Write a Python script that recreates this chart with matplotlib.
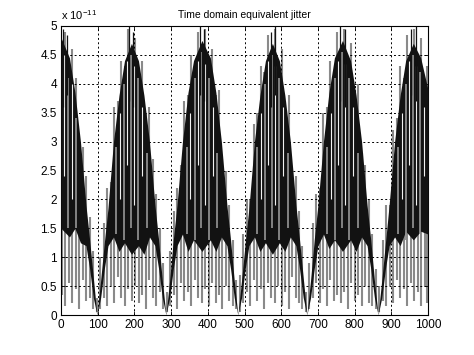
import matplotlib
matplotlib.use("Agg")
import matplotlib.pyplot as plt

plt.rcParams['font.family'] = ['Liberation Sans', 'DejaVu Sans']
plt.rcParams['mathtext.fontset'] = 'custom'
plt.rcParams['mathtext.rm'] = 'Liberation Sans'
plt.rcParams['mathtext.it'] = 'Liberation Sans'

title = "Time domain equivalent jitter"
x_ticks = [0, 100, 200, 300, 400, 500, 600, 700, 800, 900, 1000]
y_ticks = [0, 0.5, 1, 1.5, 2, 2.5, 3, 3.5, 4, 4.5, 5]
y_tick_labels = ["0", "0.5", "1", "1.5", "2", "2.5", "3", "3.5", "4", "4.5", "5"]

# dense core of the jitter trace (units of 1e-11 s)
core_x = [0, 23, 38, 53, 68, 78, 88, 98,
          108, 118, 128, 143, 158, 173, 192,
          211, 226, 241, 256, 266, 276, 286,
          296, 306, 316, 331, 346, 361, 384,
          407, 422, 437, 452, 462, 472, 482,
          492, 502, 512, 527, 542, 557, 576,
          595, 610, 625, 640, 650, 660, 670,
          680, 690, 700, 715, 730, 745, 767,
          789, 804, 819, 834, 844, 854, 864,
          874, 884, 894, 909, 924, 939, 960,
          980, 1000]
core_top = [4.8, 4.45, 3.85, 3.0, 1.9, 1.3, 0.65, 0,
            0.6, 1.25, 1.85, 3.0, 3.8, 4.4, 4.7,
            4.4, 3.8, 3.0, 1.9, 1.3, 0.6, 0,
            0.6, 1.3, 1.9, 3.0, 3.85, 4.4, 4.75,
            4.45, 3.85, 3.0, 1.9, 1.3, 0.6, 0,
            0.6, 1.25, 1.85, 3.0, 3.8, 4.4, 4.7,
            4.4, 3.8, 3.0, 1.9, 1.3, 0.65, 0,
            0.6, 1.3, 1.9, 3.0, 3.85, 4.45, 4.75,
            4.4, 3.8, 3.0, 1.9, 1.3, 0.6, 0,
            0.6, 1.25, 1.9, 3.0, 3.8, 4.4, 4.7,
            4.45, 3.9]
core_bot = [1.5, 1.35, 1.5, 1.25, 1.2, 0.8, 0.3, 0,
            0.3, 0.8, 1.2, 1.35, 1.1, 1.25, 1.05,
            1.2, 1.05, 1.35, 1.2, 0.8, 0.3, 0,
            0.3, 0.8, 1.2, 1.4, 1.1, 1.3, 1.1,
            1.3, 1.1, 1.35, 1.2, 0.8, 0.3, 0,
            0.3, 0.8, 1.2, 1.35, 1.1, 1.25, 1.05,
            1.25, 1.1, 1.35, 1.2, 0.8, 0.3, 0,
            0.3, 0.8, 1.2, 1.4, 1.15, 1.3, 1.1,
            1.3, 1.1, 1.35, 1.2, 0.8, 0.3, 0,
            0.3, 0.8, 1.2, 1.35, 1.2, 1.45, 1.3,
            1.45, 1.4]

# sparse strokes of the trace (grey)
spike_x = [3, 12, 22, 31, 41, 50, 60, 69, 79, 88,
           98,
           107, 117, 126, 136, 145, 155, 164, 174, 183, 193,
           202, 212, 221, 231, 240, 250, 259, 269, 278,
           288,
           297, 307, 316, 326, 335, 345, 354, 364, 373, 383,
           392, 402, 411, 421, 430, 440, 449, 459, 468, 478,
           487, 497, 506, 516, 525, 535, 544, 554, 563, 573,
           582, 592, 601, 611, 620, 630, 639, 649, 658, 668,
           677, 687, 696, 706, 715, 725, 734, 744, 753, 763,
           772, 782, 791, 801, 810, 820, 829, 839, 848, 858,
           867, 877, 886, 896, 905, 915, 924, 934, 943, 953, 962,
           972, 981, 991, 998]
spike_top = [4.6, 4.9, 4.2, 4.6, 4.1, 3.0, 2.9, 2.4, 1.7, 1.1,
             0.3,
             1.0, 1.6, 2.2, 2.3, 3.6, 3.7, 4.4, 4.3, 4.95, 4.5,
             4.8, 4.1, 4.4, 3.5, 3.6, 2.7, 2.1, 1.5, 0.9,
             0.4,
             1.1, 1.8, 2.2, 2.6, 3.7, 3.8, 4.5, 4.3, 4.9, 4.6,
             4.95, 4.3, 4.6, 3.8, 3.9, 2.7, 2.5, 1.9, 1.3, 0.6,
             0.7, 1.4, 2.0, 2.0, 3.3, 3.5, 4.3, 4.2, 4.85, 4.5,
             4.95, 4.3, 4.6, 3.7, 3.8, 2.5, 2.4, 1.8, 1.2, 0.4,
             0.9, 1.6, 2.1, 2.2, 3.5, 3.6, 4.4, 4.2, 4.9, 4.5,
             4.95, 4.3, 4.7, 3.9, 4.0, 2.8, 2.6, 2.0, 1.4, 0.8,
             0.5, 1.3, 1.9, 1.9, 3.2, 3.4, 4.3, 4.1, 4.85, 4.4, 4.95,
             4.4, 4.8, 4.0, 4.3]
spike_bot = [0.35, 0.15, 0.55, 0.2, 0.45, 0.1, 0.6, 0.25, 0.3, 0.1,
             0.05,
             0.1, 0.3, 0.15, 0.5, 0.2, 0.65, 0.3, 0.15, 0.45, 0.25,
             0.5, 0.2, 0.35, 0.1, 0.6, 0.3, 0.15, 0.4, 0.1,
             0.05,
             0.15, 0.35, 0.1, 0.55, 0.25, 0.4, 0.15, 0.6, 0.3, 0.2,
             0.45, 0.15, 0.55, 0.2, 0.35, 0.1, 0.5, 0.25, 0.15, 0.1,
             0.05, 0.2, 0.4, 0.15, 0.6, 0.25, 0.45, 0.1, 0.55, 0.3,
             0.2, 0.5, 0.15, 0.4, 0.1, 0.65, 0.3, 0.2, 0.1, 0.05,
             0.1, 0.3, 0.55, 0.2, 0.45, 0.15, 0.6, 0.25, 0.35, 0.2,
             0.4, 0.1, 0.55, 0.25, 0.35, 0.15, 0.5, 0.2, 0.15, 0.1,
             0.05, 0.25, 0.15, 0.5, 0.2, 0.6, 0.3, 0.45, 0.15, 0.55, 0.25,
             0.4, 0.15, 0.5, 0.2]

# grey streaks crossing the dense core
grey_x = [18, 42,
          150, 172, 190, 210, 234,
          342, 364, 382, 402, 426,
          534, 556, 574, 594, 618,
          725, 747, 765, 785, 809,
          918, 940, 958, 978]
grey_bot = [1.5, 1.5,
            1.4, 1.3, 1.5, 1.3, 1.5,
            1.4, 1.3, 1.5, 1.3, 1.5,
            1.4, 1.3, 1.5, 1.3, 1.5,
            1.4, 1.3, 1.5, 1.3, 1.5,
            1.4, 1.3, 1.5, 1.4]
grey_top = [4.1, 3.4,
            2.9, 4.0, 4.5, 4.1, 2.8,
            2.9, 4.1, 4.55, 4.1, 2.8,
            2.9, 4.0, 4.5, 4.1, 2.8,
            2.9, 4.1, 4.55, 4.1, 2.8,
            2.9, 4.0, 4.5, 4.2]

# thin light gaps inside the dense core
gap_x = [8, 30,
         160, 181, 200, 222,
         352, 373, 392, 414,
         544, 565, 584, 606,
         735, 756, 775, 797,
         928, 949, 968, 990]
gap_bot = [2.4, 2.0,
           2.0, 2.6, 1.9, 2.4,
           2.0, 2.6, 1.9, 2.4,
           2.0, 2.6, 1.9, 2.4,
           2.0, 2.6, 1.9, 2.4,
           2.0, 2.6, 1.9, 2.4]
gap_top = [4.5, 4.0,
           3.5, 4.4, 4.3, 3.6,
           3.5, 4.4, 4.35, 3.6,
           3.5, 4.4, 4.3, 3.6,
           3.5, 4.4, 4.35, 3.6,
           3.5, 4.4, 4.3, 3.6]

# tall dark strokes near the peaks
peak_x = [6, 15, 186, 197, 378, 390, 571, 583, 761, 773, 954, 966]
peak_top = [4.95, 4.85, 5.0, 4.9, 5.0, 4.95, 4.9, 5.0, 5.0, 4.95, 4.95, 5.0]
peak_bot = [3.6, 3.8, 3.7, 3.6, 3.8, 3.7, 3.6, 3.8, 3.7, 3.6, 3.8, 3.7]

fig = plt.figure(figsize=(4.74, 3.55), dpi=100)
ax = fig.add_axes([61/474, 1-315/355, (428-61)/474, (315-26)/355])

ax.vlines(spike_x, spike_bot, spike_top, color='#8a8a8a', lw=1.5, zorder=2)
ax.fill_between(core_x, core_bot, core_top, color='#121212', lw=0, zorder=3)
ax.vlines(grey_x, grey_bot, grey_top, color='#8c8c8c', lw=1.3, zorder=4)
ax.vlines(gap_x, gap_bot, gap_top, color='#f0f0f0', lw=0.8, zorder=4)
ax.vlines(peak_x, peak_bot, peak_top, color='#111111', lw=0.9, zorder=4)

ax.set_xlim(0, 1000)
ax.set_ylim(0, 5)
ax.set_xticks(x_ticks)
ax.set_xticklabels([str(v) for v in x_ticks])
ax.set_yticks(y_ticks)
ax.set_yticklabels(y_tick_labels)
ax.tick_params(direction='in', length=3, width=0.6, labelsize=8.5, colors='black', pad=3)
ax.tick_params(top=True, right=True)
for s in ax.spines.values():
    s.set_linewidth(0.8)
    s.set_color('black')
ax.grid(True, color='black', linestyle=(0, (2, 2.5)), linewidth=0.7, zorder=5)
ax.set_axisbelow(False)

ax.set_title(title, fontsize=7.5, pad=6)
ax.text(0.0, 1.015, r'x 10$^{-11}$', transform=ax.transAxes, ha='left', va='bottom', fontsize=8)

fig.savefig("out.png", dpi=100)
